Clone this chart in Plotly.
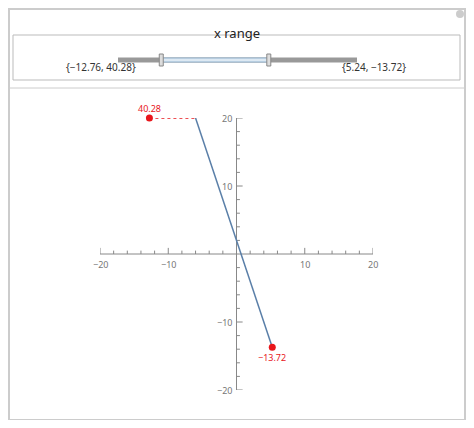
import plotly.graph_objects as go

# data
x_lo, x_hi = -12.76, 5.24
slope, intercept = -3, 2
y_clip = 20
slider_min, slider_max = -20, 20
major_ticks = [-20, -10, 10, 20]
minor_ticks = [v for v in range(-20, 21, 2) if v != 0]

# page body has an 8px margin, so work in screen pixels and subtract it
OFF = 8
W, H = 474 - 2 * OFF, 428 - 2 * OFF
L, R, T, B = 100 - OFF, 101 - OFF, 118 - OFF, 38 - OFF


def px(x):
    return (x - OFF - L) / (W - L - R)


def py(y):
    return (H - B - (y - OFF)) / (H - T - B)


def f(x):
    return slope * x + intercept


x_knee = (y_clip - intercept) / slope
fig = go.Figure()

# axes through origin
fig.add_trace(go.Scatter(x=[-20, 20], y=[0, 0], mode="lines",
                         line=dict(color="#888", width=1), hoverinfo="skip"))
fig.add_trace(go.Scatter(x=[0, 0], y=[-20, 20], mode="lines",
                         line=dict(color="#888", width=1), hoverinfo="skip"))
tx, ty = [], []
for v in minor_ticks:
    h = 0.9 if v in major_ticks else 0.5
    tx += [v, v, None]
    ty += [0, h, None]
fig.add_trace(go.Scatter(x=tx, y=ty, mode="lines", line=dict(color="#888", width=1), hoverinfo="skip"))
tx, ty = [], []
for v in minor_ticks:
    h = 0.9 if v in major_ticks else 0.5
    tx += [0, h, None]
    ty += [v, v, None]
fig.add_trace(go.Scatter(x=tx, y=ty, mode="lines", line=dict(color="#888", width=1), hoverinfo="skip"))
for v in major_ticks:
    fig.add_annotation(x=v, y=0, text=f"{v}".replace("-", "−"), showarrow=False,
                       yshift=-10, font=dict(size=9, color="#777"))
    fig.add_annotation(x=0, y=v, text=f"{v}".replace("-", "−"), showarrow=False,
                       xanchor="right", xshift=-3, font=dict(size=9, color="#777"))

# function
fig.add_trace(go.Scatter(x=[x_knee, x_hi], y=[y_clip, f(x_hi)], mode="lines",
                         line=dict(color="#5a7fa8", width=1.5)))
fig.add_trace(go.Scatter(x=[x_lo, x_knee], y=[y_clip, y_clip], mode="lines",
                         line=dict(color="#e8161b", width=1.5, dash="3px,3px")))
fig.add_trace(go.Scatter(x=[x_lo, x_hi], y=[y_clip, f(x_hi)], mode="markers", cliponaxis=False,
                         marker=dict(color="#e8161b", size=7)))
fig.add_annotation(x=x_lo, y=y_clip, text=f"{f(x_lo):.2f}", showarrow=False, yshift=10,
                   font=dict(size=9, color="#e8161b"))
fig.add_annotation(x=x_hi, y=f(x_hi), text=f"{f(x_hi):.2f}".replace("-", "−"), showarrow=False,
                   yshift=-10, font=dict(size=9, color="#e8161b"))

# panel decoration
shapes = [
    dict(type="rect", x0=px(9), x1=px(465), y0=py(420), y1=py(9), line=dict(color="#ccc", width=2)),
    dict(type="rect", x0=px(13), x1=px(460), y0=py(80), y1=py(35), line=dict(color="#bbb", width=1)),
    dict(type="rect", x0=px(9), x1=px(465), y0=py(420), y1=py(88), line=dict(color="#ccc", width=1)),
    dict(type="line", x0=px(118), x1=px(357), y0=py(60), y1=py(60), line=dict(color="#999", width=5)),
]
s0, s1 = 118, 357
t_lo = s0 + (x_lo - slider_min) / (slider_max - slider_min) * (s1 - s0)
t_hi = s0 + (x_hi - slider_min) / (slider_max - slider_min) * (s1 - s0)
shapes.append(dict(type="rect", x0=px(t_lo), x1=px(t_hi), y0=py(62), y1=py(58),
                   fillcolor="#dde9f3", line=dict(color="#8fb0cc", width=1)))
for t in (t_lo, t_hi):
    shapes.append(dict(type="rect", x0=px(t - 2), x1=px(t + 2), y0=py(66), y1=py(54),
                       fillcolor="#ddd", line=dict(color="#888", width=1)))
shapes.append(dict(type="circle", x0=px(456), x1=px(464), y0=py(18), y1=py(10),
                   fillcolor="#ccc", line=dict(width=0)))
for s in shapes:
    s["xref"] = "paper"
    s["yref"] = "paper"
    s["layer"] = "below"
fig.add_annotation(xref="paper", yref="paper", x=px(237), y=py(22), text="x range",
                   showarrow=False, font=dict(size=13, color="#222"))
fig.add_annotation(xref="paper", yref="paper", x=px(64), y=py(58), text=f"{{{x_lo}, {f(x_lo):.2f}}}".replace("-", "−"),
                   showarrow=False, font=dict(size=10, color="#333"))
fig.add_annotation(xref="paper", yref="paper", x=px(408), y=py(58), text=f"{{{x_hi}, {f(x_hi):.2f}}}".replace("-", "−"),
                   showarrow=False, font=dict(size=10, color="#333"))

fig.update_layout(
    width=W, height=H, margin=dict(l=L, r=R, t=T, b=B),
    paper_bgcolor="white", plot_bgcolor="white", showlegend=False,
    shapes=shapes, font=dict(family="Noto Sans"),
    xaxis=dict(range=[-20, 20], visible=False),
    yaxis=dict(range=[-20, 20], visible=False),
)
fig.write_html("out.html")
